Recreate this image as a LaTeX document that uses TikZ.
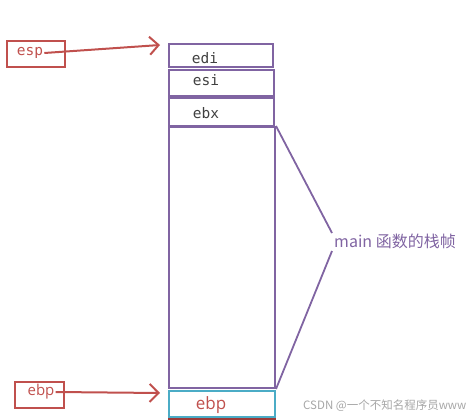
\documentclass[tikz,border=0pt]{standalone}
\usepackage{fontspec}
\setmonofont{DejaVu Sans Mono}
\setsansfont{Open Sans}
\newfontfamily\cjkfont{Noto Sans CJK SC}
\usetikzlibrary{arrows.meta}
\definecolor{regred}{HTML}{C0504D}
\definecolor{framepurple}{HTML}{8064A2}
\definecolor{ebpblue}{HTML}{4BACC6}
\definecolor{slottext}{HTML}{404040}
\definecolor{wmgray}{HTML}{A6A6A6}
\definecolor{nextred}{HTML}{9B3B38}

\begin{document}
\begin{tikzpicture}[x=1pt,y=-1pt,
  slot/.style={draw=framepurple, line width=2pt, anchor=north west, inner sep=0pt},
  regbox/.style={draw=regred, line width=2pt, anchor=north west, inner sep=0pt},
  slotname/.style={text=slottext, font=\ttfamily\fontsize{14.5}{16}\selectfont},
  ptr/.style={draw=regred, line width=2pt, -{Straight Barb[length=9pt,width=18pt,line width=2pt]}}]
\useasboundingbox (0,0) rectangle (474,420);
% left registers
\node[regbox, minimum width=58pt, minimum height=26pt] (espbox) at (6,40) {};
\node[text=regred, font=\ttfamily\fontsize{14.5}{16}\selectfont, inner sep=1pt] (esp) at (30,53) {esp};
\node[regbox, minimum width=49pt, minimum height=26pt] (ebpbox) at (14,381) {};
\node[text=regred, font=\sffamily\fontsize{15}{17}\selectfont, inner sep=1pt] (ebp) at (41,392) {ebp};
% stack slots
\node[slot, minimum width=104pt, minimum height=23pt] (edi) at (168,43) {};
\node[slot, minimum width=105pt, minimum height=26pt] (esi) at (168,69) {};
\node[slot, minimum width=105pt, minimum height=28pt] (ebx) at (168,97) {};
\node[slot, minimum width=106pt, minimum height=261pt] (frame) at (168,126) {};
\node[slot, draw=ebpblue, minimum width=106pt, minimum height=26pt] (oldebp) at (168,390) {};
\node[fill=nextred, anchor=north west, minimum width=108pt, minimum height=8pt, inner sep=0pt] (next) at (168,418) {};
\node[slotname] (edit) at (205,58) {edi};
\node[slotname] (esit) at (206,80) {esi};
\node[slotname] (ebxt) at (206,113) {ebx};
\node[text=regred, font=\sffamily\fontsize{17}{19}\selectfont] (oldebpt) at (211,405) {ebp};
% frame label
\node[anchor=west, text=framepurple, font=\cjkfont\fontsize{16}{18}\selectfont, inner sep=0pt] (mainlbl) at (334,241) {main 函数的栈帧};
\draw[framepurple, line width=1.8pt] (frame.north east) -- ([xshift=-2pt,yshift=8pt]mainlbl.west);
\draw[framepurple, line width=1.8pt] ([xshift=-2pt,yshift=-10pt]mainlbl.west) -- (frame.south east);
% pointers
\coordinate (esptip) at (160,45);
\coordinate (ebptip) at (160,393);
\draw[ptr] (esp.east) -- (esptip);
\draw[ptr] (ebp.east) -- (ebptip);
% watermark
\node[anchor=west, text=wmgray, font=\cjkfont\fontsize{11.5}{13}\selectfont, inner sep=0pt] (wm) at (303,406) {CSDN @一个不知名程序员www};
\end{tikzpicture}
\end{document}
